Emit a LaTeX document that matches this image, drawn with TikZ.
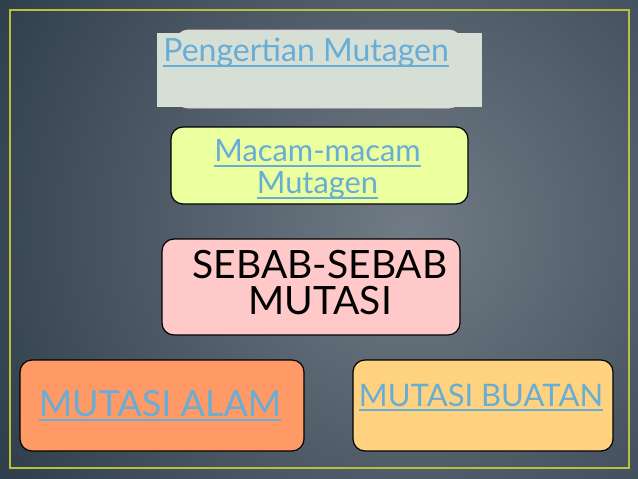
\documentclass[tikz,border=0pt]{standalone}
\usepackage{fontspec}
\setmainfont{Lato}
\usepackage{tikz}
\usetikzlibrary{positioning}
\newcommand\ulword[1]{\leavevmode\setbox0=\hbox{#1}\rlap{\rule[-2.5pt]{\wd0}{1pt}}\box0}
\definecolor{palBgDark}{HTML}{1A2838}
\definecolor{palBgLight}{HTML}{707B85}
\definecolor{palFrame}{HTML}{B8C040}
\definecolor{palGrey}{HTML}{D5DFD5}
\definecolor{palLime}{HTML}{EBFF9F}
\definecolor{palPink}{HTML}{FFC9C9}
\definecolor{palOrange}{HTML}{FF9966}
\definecolor{palYellow}{HTML}{FFD27F}
\definecolor{palLink}{HTML}{68ADD6}
\tikzset{
  topicbox/.style={draw=black, rounded corners=6pt, line width=0.6pt,
                   inner sep=0pt},
  linktext/.style={text=palLink, align=center},
  maintext/.style={text=black, font=\fontsize{19.5}{18}\selectfont,
                   align=center},
}

\begin{document}
\begin{tikzpicture}[x=0.5pt, y=-0.5pt]
%% Background
\useasboundingbox (0,0) rectangle (638,478);
\begin{scope}
  \clip (0,0) rectangle (638,478);
  \shade[inner color=palBgLight, outer color=palBgDark] (410,230) circle (640);
\end{scope}
\draw[palFrame, line width=1pt] (9.5,10) rectangle (628.5,467.5);
%% Nodes
\draw[rounded corners=6pt, draw=palPink!70!palGrey, fill=palGrey] (176,30) rectangle (461,108);
\node[fill=palGrey, minimum width=162.5pt, minimum height=37pt, inner sep=0pt]
  (pengertian) at (319.5,70) {};
\node[linktext, anchor=north west, inner sep=0pt,
      font=\fontsize{16}{18}\selectfont] (pengertianText)
  at (163,38) {\ulword{Pengertian Mutagen}};
\node[topicbox, fill=palLime, minimum width=148.5pt, minimum height=38.5pt]
  (macam) at (319.5,165.5) {};
\node[linktext, font=\fontsize{15.4}{16}\selectfont] (macamText)
  at ([xshift=-1pt,yshift=-2pt]macam.center) {\ulword{Macam-macam}\\\ulword{Mutagen}};
\node[topicbox, fill=palPink, minimum width=149pt, minimum height=48pt]
  (sebab) at (311,287) {};
\node[maintext] (sebabText) at ([xshift=4.5pt,yshift=2pt]sebab.center) {SEBAB-SEBAB\\MUTASI};
\node[topicbox, fill=palOrange, minimum width=142pt, minimum height=45.5pt]
  (alam) at (162,405.5) {};
\node[linktext, font=\fontsize{18}{20}\selectfont] (alamText)
  at ([xshift=-1pt]alam.center) {\ulword{MUTASI ALAM}};
\node[topicbox, fill=palYellow, minimum width=130pt, minimum height=45.5pt]
  (buatan) at (483,405.5) {};
\node[linktext, font=\fontsize{15.5}{18}\selectfont] (buatanText)
  at ([xshift=-1pt,yshift=4pt]buatan.center) {\ulword{MUTASI BUATAN}};
\end{tikzpicture}
\end{document}
